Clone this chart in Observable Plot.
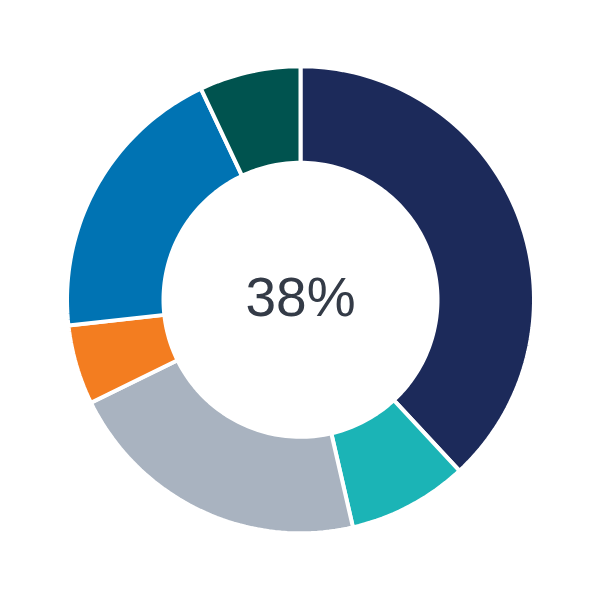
<!DOCTYPE html>
<html>
<head>
<meta charset="utf-8">
<script src="https://cdn.jsdelivr.net/npm/d3@7"></script>
<script src="https://cdn.jsdelivr.net/npm/@observablehq/plot@0.6"></script>
<style>
  html, body { margin: 0; padding: 0; background: #ffffff; }
  #chart { width: 600px; height: 600px; }
</style>
</head>
<body>
<div id="chart"></div>
<script>
// Data (clockwise from 12 o'clock)
const categories = ["A", "B", "C", "D", "E", "F"];
const values = [38, 8.3, 21.3, 5.5, 19.7, 7.0];
const colors = ["#1c2a5a", "#1bb4b6", "#a9b3c0", "#f37d20", "#0073b3", "#00534f"];
const centerLabel = ["38%"];

// Ring geometry (data units = pixels)
const outerR = 233.5;
const innerR = 137;
const steps = 240;

const total = d3.sum(values);
const points = [];
let acc = 0;
values.forEach((v, i) => {
  const a0 = (acc / total) * 2 * Math.PI;
  acc += v;
  const a1 = (acc / total) * 2 * Math.PI;
  const n = Math.max(2, Math.ceil(((a1 - a0) / (2 * Math.PI)) * steps));
  const ring = [];
  for (let k = 0; k <= n; k++) {
    const a = a0 + (a1 - a0) * (k / n);
    ring.push({cat: categories[i], x: outerR * Math.sin(a), y: outerR * Math.cos(a)});
  }
  for (let k = n; k >= 0; k--) {
    const a = a0 + (a1 - a0) * (k / n);
    ring.push({cat: categories[i], x: innerR * Math.sin(a), y: innerR * Math.cos(a)});
  }
  ring.push({...ring[0]});
  points.push(...ring);
});

const chart = Plot.plot({
  width: 600,
  height: 600,
  margin: 0,
  style: {background: "#ffffff", fontFamily: "'Liberation Sans', Arial, Helvetica, sans-serif"},
  x: {domain: [-300, 300], range: [0, 600], axis: null},
  y: {domain: [-300.7, 299.3], range: [600, 0], axis: null},
  color: {domain: categories, range: colors},
  marks: [
    Plot.line(points, {
      x: "x", y: "y", z: "cat", fill: "cat",
      stroke: "#ffffff", strokeWidth: 4, strokeLinejoin: "miter", curve: "linear"
    }),
    Plot.text(centerLabel, {
      x: () => 0, y: () => 0, text: d => d,
      fontSize: 55, fill: "#343b47", fontWeight: 400, dy: -1
    })
  ]
});
document.getElementById("chart").appendChild(chart);
</script>
</body>
</html>
